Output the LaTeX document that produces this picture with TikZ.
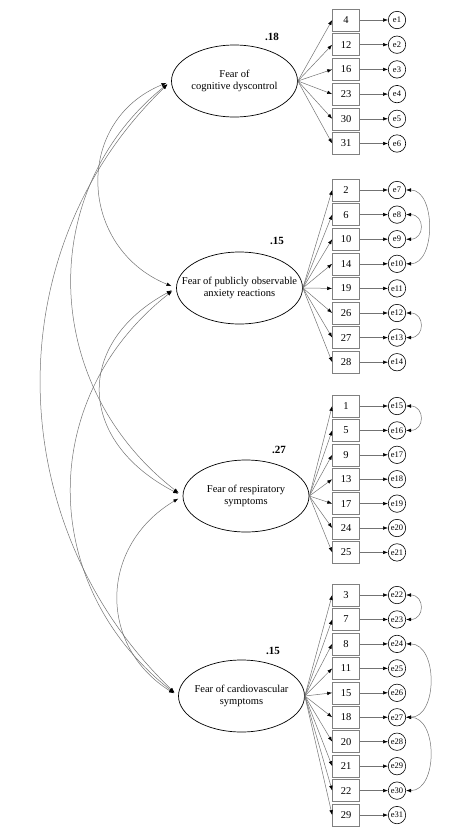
\documentclass[tikz,border=0pt]{standalone}
\usepackage{fontspec}
\setmainfont{Liberation Serif}
\usepackage{tikz}
\usetikzlibrary{arrows.meta}
\usetikzlibrary{shapes.geometric}

\tikzset{
    latent/.style={draw, ellipse, line width=0.7pt, minimum width=126pt, minimum height=72pt, inner sep=0pt},
    ltext/.style={align=center, font=\fontsize{10.5}{12.5}\selectfont},
    item/.style={draw=black!50, line width=0.6pt, minimum width=27pt, minimum height=22pt, inner sep=0pt, font=\fontsize{10.5}{12}\selectfont},
    err/.style={draw, circle, line width=0.6pt, minimum size=17.4pt, inner sep=0pt, font=\fontsize{8.5}{10}\selectfont},
    rsq/.style={font=\fontsize{11}{13}\selectfont\bfseries},
    ahead/.style={-{Latex[length=5pt,width=3.6pt,color=black]}},
    load/.style={black!55, line width=0.5pt, ahead},
    cov/.style={black!55, line width=0.5pt, {Latex[length=5pt,width=3.6pt,color=black]}-{Latex[length=5pt,width=3.6pt,color=black]}},
    gap/.style={shorten <=5pt, shorten >=5pt},
}

\begin{document}
\begin{tikzpicture}[x=1pt, y=-1pt]
        \useasboundingbox (0,0) rectangle (449,839);
        % 绘制潜变量
        \node[latent, label={[ltext]center:{Fear of\\cognitive dyscontrol}}] (f1) at (234.5,81) {};
        \node[latent, label={[ltext]center:{Fear of publicly observable\\anxiety reactions}}] (f2) at (239.5,288) {};
        \node[latent, label={[ltext]center:{Fear of respiratory\\symptoms}}] (f3) at (246,496) {};
        \node[latent, label={[ltext]center:{Fear of cardiovascular\\symptoms}}] (f4) at (241.5,696) {};
        % 标记R方
        \node[rsq] (r1) at (272,37) {.18};
        \node[rsq] (r2) at (277,241) {.15};
        \node[rsq] (r3) at (279,450) {.27};
        \node[rsq] (r4) at (273,651) {.15};
        % 绘制指标和误差
        \foreach \q [count=\k] in {4,12,16,23,30,31} {
            \node[item] (q\q) at (346,{20+24.7*(\k-1)}) {\q};
            \node[err] (e\k) at (397,{20+24.7*(\k-1)}) {e\k};
            \draw[load] (f1.east) -- (q\q.west);
            \draw[load] (q\q.east) -- (e\k.west);
        }
        \foreach \q [count=\k from 7] in {2,6,10,14,19,26,27,28} {
            \node[item] (q\q) at (346,{190+24.6*(\k-7)}) {\q};
            \node[err] (e\k) at (397,{190+24.6*(\k-7)}) {e\k};
            \draw[load] (f2.east) -- (q\q.west);
            \draw[load] (q\q.east) -- (e\k.west);
        }
        \foreach \q [count=\k from 15] in {1,5,9,13,17,24,25} {
            \node[item] (q\q) at (346,{406+24.4*(\k-15)}) {\q};
            \node[err] (e\k) at (397,{406+24.4*(\k-15)}) {e\k};
            \draw[load] (f3.east) -- (q\q.west);
            \draw[load] (q\q.east) -- (e\k.west);
        }
        \foreach \q [count=\k from 22] in {3,7,8,11,15,18,20,21,22,29} {
            \node[item] (q\q) at (346,{595+24.45*(\k-22)}) {\q};
            \node[err] (e\k) at (397,{595+24.45*(\k-22)}) {e\k};
            \draw[load] (f4.east) -- (q\q.west);
            \draw[load] (q\q.east) -- (e\k.west);
        }
        % 误差相关
        \draw[cov] (e7.east) .. controls +(30,0) and +(30,0) .. (e10.east);
        \draw[cov] (e8.east) .. controls +(19,0) and +(19,0) .. (e9.east);
        \draw[cov] (e12.east) .. controls +(19,0) and +(19,0) .. (e13.east);
        \draw[cov] (e15.east) .. controls +(19,0) and +(19,0) .. (e16.east);
        \draw[cov] (e22.east) .. controls +(19,0) and +(19,0) .. (e23.east);
        \draw[cov] (e24.east) .. controls +(32,0) and +(32,0) .. (e27.east);
        \draw[cov] (e27.east) .. controls +(32,0) and +(32,0) .. (e30.east);
        % 因子相关
        \draw[cov, gap] (f1.west) .. controls +(-98,40) and +(-98,-40) .. (f2.west);
        \draw[cov, gap] (f1.west) .. controls +(-136,110) and +(-142,-110) .. (f3.west);
        \draw[cov, gap] (f1.west) .. controls +(-177,170) and +(-177,-170) .. (f4.west);
        \draw[cov, gap] (f2.west) .. controls +(-102,55) and +(-106,-55) .. (f3.west);
        \draw[cov, gap] (f2.west) .. controls +(-140,110) and +(-140,-110) .. (f4.west);
        \draw[cov, gap] (f3.west) .. controls +(-84,50) and +(-80,-50) .. (f4.west);
    \end{tikzpicture}
\end{document}
